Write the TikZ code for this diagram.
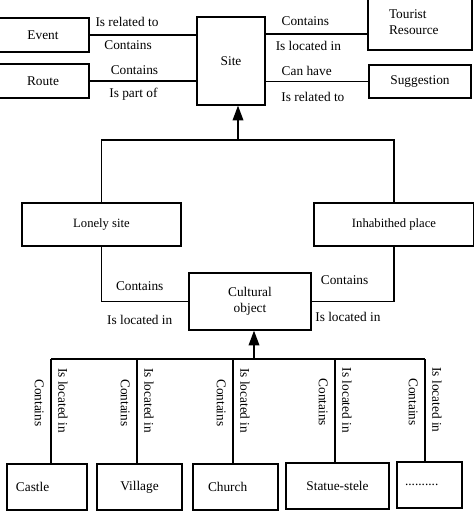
\documentclass[tikz,border=0pt]{standalone}
\usepackage{fontspec}
\setmainfont{Liberation Serif}
\usetikzlibrary{positioning, arrows.meta}

\begin{document}
\begin{tikzpicture}[
    x=0.75pt, y=-0.75pt,
    box/.style={rectangle, draw, line width=1pt, align=center, inner sep=2pt},
    link/.style={line width=1pt},
    arrow/.style={link, -{Triangle[length=11pt, width=8pt]}},
    rel/.style={inner sep=3pt},
    vrel/.style={rel, rotate=-90, inner sep=5pt},
]
    \useasboundingbox (0,0) rectangle (474,511);

    % Site and its neighbours
    \node[box, minimum width=69pt, minimum height=25.5pt] (event) at (43,35) {Event};
    \node[box, minimum width=69pt, minimum height=25.5pt] (route) at (43,81) {Route};
    \node[box, minimum width=51pt, minimum height=66pt] (site) at (231,61) {Site};
    \node[box, minimum width=78pt, minimum height=41.25pt, text width=46.5pt, align=left] (tourist) at (420,22.5) {Tourist\\Resource};
    \node[box, minimum width=76.5pt, minimum height=24.75pt] (suggestion) at (420,81.5) {Suggestion};
    \coordinate (tourist in) at ([yshift=-8.6pt]tourist.west);

    \draw[link] (event.east) -- (event.east -| site.west)
        node[rel, pos=0.35, above=2.6pt] {Is related to}
        node[rel, pos=0.36, below=0.4pt] {Contains};
    \draw[link] (route.east) -- (route.east -| site.west)
        node[rel, pos=0.42, above=1.1pt] {Contains}
        node[rel, pos=0.41, below=1.9pt] {Is part of};
    \draw[link] (site.east |- tourist in) -- (tourist in)
        node[rel, pos=0.39, above=2.6pt] {Contains}
        node[rel, pos=0.42, below=1.9pt] {Is located in};
    \draw[link] (site.east |- suggestion.west) -- (suggestion.west)
        node[rel, pos=0.4, above=1.1pt] {Can have}
        node[rel, pos=0.46, below=4.9pt] {Is related to};

    % Kinds of site
    \node[box, minimum width=119.25pt, minimum height=32.25pt, font=\fontsize{9.5}{11}\selectfont] (lonely) at (101.5,224.5) {Lonely site};
    \node[box, minimum width=120pt, minimum height=32.25pt, font=\fontsize{9.5}{11}\selectfont] (inhabited) at (394,224.5) {Inhabithed place};
    \coordinate (site join) at (238,140);

    \draw[link] (lonely.north) |- (site join) -| (inhabited.north);
    \draw[arrow] (site join) -- (site join |- site.south);

    % Cultural object
    \node[box, minimum width=91.5pt, minimum height=42.75pt] (cultural) at (250,301.5) {Cultural\\object};

    \draw[link] (lonely.south) |- (cultural.west)
        node[rel, pos=0.72, above=4.5pt] {Contains}
        node[rel, pos=0.72, below=7.1pt] {Is located in};
    \draw[link] (inhabited.south) |- (cultural.east)
        node[rel, pos=0.8, above=9.4pt] {Contains}
        node[rel, pos=0.78, below=4.9pt] {Is located in};

    % Kinds of cultural object
    \node[box, minimum width=60pt, minimum height=34.5pt, text width=46.5pt, align=left] (castle) at (47,487) {Castle};
    \node[box, minimum width=63.75pt, minimum height=34.5pt] (village) at (139.5,487) {Village};
    \node[box, minimum width=63.75pt, minimum height=34.5pt, text width=41.25pt, align=left] (church) at (235.5,487) {Church};
    \node[box, minimum width=77.25pt, minimum height=34.5pt] (statue) at (337.5,486) {Statue-stele};
    \node[box, minimum width=48.75pt, minimum height=34.5pt, text width=36.75pt, align=left] (dots) at (429.5,485) {..........};
    \coordinate (object join) at (254,359);

    \draw[arrow] (object join) -- (object join |- cultural.south);
    \draw[link] ([xshift=3pt]castle.north |- object join) -- ([xshift=-3.4pt]dots.north |- object join);
    \foreach \leaf/\dx in {castle/3pt, village/-1.9pt, church/-1.9pt, statue/-1.9pt, dots/-3.4pt} {
        \draw[link] ([xshift=\dx]\leaf.north |- object join) -- ([xshift=\dx]\leaf.north)
            node[vrel, pos=0.42, anchor=north] {Contains}
            node[vrel, pos=0.4, anchor=south] {Is located in};
    }
\end{tikzpicture}
\end{document}
